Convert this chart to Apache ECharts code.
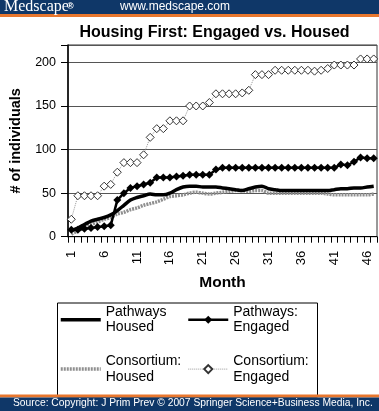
<!DOCTYPE html>
<html>
<head>
<meta charset="utf-8">
<script src="https://cdn.jsdelivr.net/npm/echarts@6/dist/echarts.min.js"></script>
<style>
html,body{margin:0;padding:0;background:#fff;}
#chart{width:379px;height:411px;}
</style>
</head>
<body>
<div id="chart"></div>
<script>
var months = ['1','2','3','4','5','6','7','8','9','10','11','12','13','14','15','16','17','18','19','20',
  '21','22','23','24','25','26','27','28','29','30','31','32','33','34','35','36','37','38','39','40',
  '41','42','43','44','45','46','47'];

var pathwaysHoused = [7,10,14,18,20,22,25,30,36,42,45,47,49,48,48,50,54,57,58,58,
  57,57,57,56,55,54,53,55,57,58,55,54,53,53,53,53,53,53,53,53,
  54,55,55,56,56,57,58];

var pathwaysEngaged = [8,8,9,10,11,12,13,42,50,56,58,60,62,68,68,68,69,70,71,71,
  71,71,77,79,79,79,79,79,79,79,79,79,79,79,79,79,79,79,79,79,
  79,83,82,86,91,90,90];

var consortiumHoused = [3,7,11,14,17,20,22,26,28,31,33,36,38,40,43,46,47,48,50,51,
  50,49,50,51,52,53,53,52,53,53,50,50,50,50,50,50,50,50,50,49,
  48,48,48,48,48,48,49];

var consortiumEngaged = [20,47,47,47,47,58,60,74,85,85,85,94,114,124,124,133,133,133,150,150,
  150,154,164,164,164,164,165,168,186,186,186,191,191,191,191,191,191,190,191,193,
  197,197,197,197,204,204,204];

var seriesNames = ['Pathways Housed','Pathways: Engaged','Consortium: Housed','Consortium: Engaged'];
var legendLabels = {
  'Pathways Housed':'Pathways\nHoused',
  'Pathways: Engaged':'Pathways:\nEngaged',
  'Consortium: Housed':'Consortium:\nHoused',
  'Consortium: Engaged':'Consortium:\nEngaged'
};

var NAVY = '#0f3768';
var ORANGE = '#e8772e';
var FONT = 'Liberation Sans, Arial, sans-serif';

var chart = echarts.init(document.getElementById('chart'), null, {renderer:'canvas'});

var legendCommon = {
  orient:'vertical',
  padding:0,
  itemGap:18,
  itemWidth:40,
  itemHeight:10,
  formatter:function(n){return legendLabels[n];},
  textStyle:{fontFamily:FONT,fontSize:14,color:'#000',lineHeight:15.7},
  selectedMode:false
};
var hiddenMarker = {opacity:0, color:'rgba(0,0,0,0)', borderWidth:0};

var option = {
  animation:false,
  backgroundColor:'#fff',
  title:{
    text:'Housing First: Engaged vs. Housed',
    left:209.5, top:20, textAlign:'center',
    textStyle:{fontFamily:FONT,fontSize:16,fontWeight:'bold',color:'#000'}
  },
  grid:{left:58,right:2,top:45,bottom:174.3,show:true,borderColor:'#333',borderWidth:1},
  legend:[
    Object.assign({},legendCommon,{left:59,top:304,data:[
      {name:seriesNames[0],itemStyle:hiddenMarker,lineStyle:{color:'#000',width:3.5}},
      {name:seriesNames[2],itemStyle:hiddenMarker,lineStyle:{color:'#8f8f8f',width:3.5,type:[2,1]}}
    ]}),
    Object.assign({},legendCommon,{left:187,top:304,data:[
      {name:seriesNames[1],lineStyle:{color:'#000',width:2.5}},
      {name:seriesNames[3],lineStyle:{color:'#999',width:1,type:'dotted'}}
    ]})
  ],
  xAxis:{
    type:'category',
    data:months,
    boundaryGap:true,
    name:'Month',
    nameLocation:'middle',
    nameGap:38,
    nameTextStyle:{fontFamily:FONT,fontSize:15.5,fontWeight:'bold',color:'#000'},
    axisLine:{lineStyle:{color:'#000',width:1}},
    axisTick:{show:true,interval:0,length:6,inside:false,lineStyle:{color:'#000'}},
    axisLabel:{interval:4,rotate:90,margin:14,fontFamily:FONT,fontSize:13,color:'#000'},
    splitLine:{show:false}
  },
  yAxis:{
    type:'value',
    min:0,max:220,interval:50,
    name:'# of individuals',
    nameLocation:'middle',
    nameGap:45,
    nameTextStyle:{fontFamily:FONT,fontSize:14.5,fontWeight:'bold',color:'#000'},
    axisLine:{show:true,lineStyle:{color:'#000',width:1.5}},
    axisTick:{show:true,length:7,lineStyle:{color:'#000'}},
    axisLabel:{margin:12,fontFamily:FONT,fontSize:12.5,color:'#000',
      formatter:function(v){return v%50===0?String(v):'';}},
    splitLine:{show:true,lineStyle:{color:'#555',width:1}}
  },
  series:[
    {
      name:seriesNames[2],type:'line',data:consortiumHoused,
      symbol:'none',smooth:0.3,z:2,
      lineStyle:{color:'#8f8f8f',width:3.5,type:[2,1]},
      itemStyle:{color:'#8f8f8f'}
    },
    {
      name:seriesNames[0],type:'line',data:pathwaysHoused,
      symbol:'none',smooth:0.3,z:3,
      lineStyle:{color:'#000',width:3.5},
      itemStyle:{color:'#000'}
    },
    {
      name:seriesNames[1],type:'line',data:pathwaysEngaged,
      symbol:'diamond',symbolSize:8,showAllSymbol:true,z:4,
      lineStyle:{color:'#000',width:2.5},
      itemStyle:{color:'#000'}
    },
    {
      name:seriesNames[3],type:'line',data:consortiumEngaged,
      symbol:'diamond',symbolSize:8,showAllSymbol:true,z:4,
      lineStyle:{color:'#999',width:1,type:'dotted'},
      itemStyle:{color:'#fff',borderColor:'#333',borderWidth:1}
    }
  ],
  graphic:[
    {type:'rect',left:0,top:0,shape:{x:0,y:0,width:379,height:14},style:{fill:NAVY},silent:true},
    {type:'rect',left:0,top:14,shape:{x:0,y:0,width:379,height:3},style:{fill:ORANGE},silent:true},
    {type:'text',left:4,top:-1,style:{text:'Medscape',fill:'#fff',font:'16px "Liberation Serif", "DejaVu Serif", serif'},silent:true},
    {type:'text',left:67,top:2,style:{text:'®',fill:'#fff',font:'bold 9px "Liberation Sans", Arial, sans-serif'},silent:true},
    {type:'text',left:120,top:1,style:{text:'www.medscape.com',fill:'#fff',font:'12px "Liberation Sans", Arial, sans-serif'},silent:true},
    {type:'rect',left:55,top:300.5,shape:{x:0,y:0,width:260,height:94},style:{fill:'none',stroke:'#000',lineWidth:1},silent:true,z:-1},
    {type:'rect',left:0,top:394.5,shape:{x:0,y:0,width:379,height:3},style:{fill:ORANGE},silent:true},
    {type:'rect',left:0,top:397.5,shape:{x:0,y:0,width:379,height:14},style:{fill:NAVY},silent:true},
    {type:'text',left:13,top:398.5,style:{text:'Source: Copyright: J Prim Prev \u00a9 2007 Springer Science+Business Media, Inc.',fill:'#fff',font:'10.3px "Liberation Sans", Arial, sans-serif'},silent:true}
  ]
};
chart.setOption(option);
</script>
</body>
</html>
